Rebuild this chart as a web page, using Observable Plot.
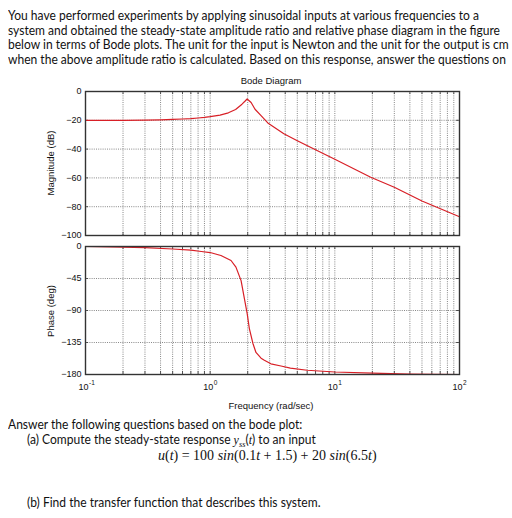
<!DOCTYPE html>
<html>
<head>
<meta charset="utf-8">
<script src="https://cdn.jsdelivr.net/npm/d3@7"></script>
<script src="https://cdn.jsdelivr.net/npm/@observablehq/plot@0.6"></script>
<style>
  html, body { margin: 0; padding: 0; background: #fff; width: 512px; height: 518px; overflow: hidden; }
  #page { position: relative; width: 512px; height: 518px; }
  .para { position: absolute; left: 8px; white-space: nowrap; font-family: Lato, "Open Sans", sans-serif; color: #111; transform-origin: 0 50%; }
  .lab { position: absolute; font-family: "Liberation Sans", Arial, sans-serif; font-size: 9.5px; color: #111; white-space: nowrap; }
  .math { font-family: "Liberation Serif", "DejaVu Serif", serif; font-style: italic; }
  .sub { font-size: 9px; position: relative; top: 3px; line-height: 0; }
  .plotbox { position: absolute; left: 0; }
</style>
</head>
<body>
<div id="page"></div>
<script>
// ---------- data ----------
const introLines = [
  "You have performed experiments by applying sinusoidal inputs at various frequencies to a",
  "system and obtained the steady-state amplitude ratio and relative phase diagram in the figure",
  "below in terms of Bode plots. The unit for the input is Newton and the unit for the output is cm",
  "when the above amplitude ratio is calculated. Based on this response, answer the questions on"
];
const chartTitle = "Bode Diagram";
const magLabel = "Magnitude (dB)";
const phaseLabel = "Phase (deg)";
const freqLabel = "Frequency  (rad/sec)";

const freqDecades = [0.1, 1, 10, 100];
const decadeExponents = ["-1", "0", "1", "2"];
const magTicks = [0, -20, -40, -60, -80, -100];
const phaseTicks = [0, -45, -90, -135, -180];

// magnitude curve
const magFreq = [0.1, 0.2, 0.3, 0.4, 0.5, 0.6, 0.7, 0.8, 0.9, 1.0, 1.2, 1.4, 1.6, 1.8, 1.9, 1.98, 2.13, 2.29, 2.56, 2.9, 3.9, 5, 7, 10, 19.4, 30, 50, 100];
const magDb   = [-20, -20, -19.9, -19.7, -19.4, -19.1, -18.8, -18.4, -18.0, -17.5, -16.4, -14.8, -12.5, -8.8, -6.8, -5.2, -7.6, -12.3, -16.7, -21.8, -29.4, -34.2, -40.5, -47, -59.5, -66.5, -76, -87];

// phase curve
const phaseFreq = [0.1, 0.2, 0.3, 0.5, 0.7, 0.85, 1.0, 1.22, 1.47, 1.61, 1.77, 1.88, 1.98, 2.06, 2.2, 2.33, 2.56, 2.72, 3.07, 3.7, 4.4, 6, 10, 20, 40, 100];
const phaseDeg  = [0, -1, -1.5, -3.5, -5, -7, -8.5, -12.6, -19.7, -29, -48, -73, -94, -115, -136, -149, -157, -160, -165, -168, -171, -174, -176.5, -178, -179.5, -180];

// ---------- build ----------
const page = document.getElementById("page");
const magData = magFreq.map((w, i) => ({w, v: magDb[i]}));
const phaseData = phaseFreq.map((w, i) => ({w, v: phaseDeg[i]}));
const gridFreq = [];
for (let k = 0; k < 3; k++) for (let m = 1; m <= 9; m++) gridFreq.push(m * freqDecades[k]);
gridFreq.push(freqDecades[3]);
const innerFreq = gridFreq.filter(f => f > 0.1 && f < 100);

const FONT = "'Liberation Sans', Arial, sans-serif";
const RED = "#d81f26";
const GRID = "#6a6a6a";

function makePanel(data, yDomain, yTicks, opts) {
  const span = yDomain[1] - yDomain[0];
  const tickLenY = span * opts.tickPx / opts.plotH;
  const tickFx = Math.pow(10, 3 * opts.tickPx / 374);
  const marks = [
    Plot.ruleX(innerFreq, {stroke: GRID, strokeWidth: 0.8, strokeDasharray: "1,1.2"}),
    Plot.ruleY(yTicks.filter(t => t > yDomain[0] && t < yDomain[1]), {stroke: GRID, strokeWidth: 0.8, strokeDasharray: "1,1.2"}),
    // inward ticks on top / bottom edges
    Plot.ruleX(innerFreq, {y1: yDomain[1], y2: yDomain[1] - tickLenY, stroke: "#333", strokeWidth: 0.8}),
    Plot.ruleX(innerFreq, {y1: yDomain[0], y2: yDomain[0] + tickLenY, stroke: "#333", strokeWidth: 0.8}),
    // inward ticks on left / right edges
    Plot.ruleY(yTicks, {x1: 0.1, x2: 0.1 * tickFx, stroke: "#333", strokeWidth: 0.8}),
    Plot.ruleY(yTicks, {x1: 100, x2: 100 / tickFx, stroke: "#333", strokeWidth: 0.8}),
    Plot.line(data, {x: "w", y: "v", stroke: RED, strokeWidth: 1.2}),
    Plot.axisY(yTicks, {tickSize: 0, tickPadding: 4, fontSize: 9, label: null, fill: "#111"}),
    Plot.frame({stroke: "#333", strokeWidth: 1.4})
  ];
  if (opts.xLabels) {
    marks.push(Plot.text(freqDecades, {x: d => d, frameAnchor: "bottom", dy: 15, dx: 3, text: () => "10", textAnchor: "end", fontSize: 9, fill: "#111"}));
    marks.push(Plot.text(freqDecades, {x: d => d, frameAnchor: "bottom", dy: 10, dx: 3.5, text: (d, i) => decadeExponents[i], textAnchor: "start", fontSize: 6.5, fill: "#111"}));
  }
  return Plot.plot({
    width: 512,
    height: opts.height,
    marginLeft: 85, marginRight: 53,
    marginTop: opts.mt, marginBottom: opts.mb,
    style: {fontFamily: FONT, background: "transparent", overflow: "visible"},
    x: {type: "log", domain: [0.1, 100], axis: null},
    y: {domain: yDomain, axis: null},
    marks
  });
}

const magPlot = makePanel(magData, [-100, 0], magTicks, {height: 157, mt: 11, mb: 2, plotH: 144, tickPx: 3});
const phasePlot = makePanel(phaseData, [-180, 0], phaseTicks, {height: 177, mt: 9, mb: 40, plotH: 128, tickPx: 3, xLabels: true});

const magBox = document.createElement("div");
magBox.className = "plotbox"; magBox.style.top = "80px";
magBox.appendChild(magPlot);
page.appendChild(magBox);
const phBox = document.createElement("div");
phBox.className = "plotbox"; phBox.style.top = "237px";
phBox.appendChild(phasePlot);
page.appendChild(phBox);

function addLabel(text, x, y) {
  const d = document.createElement("div");
  d.className = "lab";
  d.textContent = text;
  d.style.left = x + "px"; d.style.top = y + "px";
  d.style.transform = "translate(-50%, -50%)";
  page.appendChild(d);
  return d;
}
addLabel(chartTitle, 271, 80);
addLabel(freqLabel, 271, 405);
const ml = addLabel(magLabel, 50, 163);
ml.style.transform = "translate(-50%, -50%) rotate(-90deg)";
const pl = addLabel(phaseLabel, 50, 311);
pl.style.transform = "translate(-50%, -50%) rotate(-90deg)";

// intro paragraph
const lineCenters = [15, 29.5, 44, 58.5];
const paraSize = 13;
introLines.forEach((t, i) => {
  const d = document.createElement("div");
  d.className = "para";
  d.textContent = t;
  d.style.fontSize = paraSize + "px";
  d.style.top = (lineCenters[i] - 9) + "px";
  d.style.lineHeight = "18px";
  page.appendChild(d);
});
// fit the Calibri-like width of the reference
const first = page.querySelector(".para");
const sc = 471 / first.getBoundingClientRect().width;
page.querySelectorAll(".para").forEach(d => d.style.transform = `scaleX(${sc})`);

// questions below the chart
function addPara(html, x, yc) {
  const d = document.createElement("div");
  d.className = "para q";
  d.innerHTML = html;
  d.style.left = x + "px";
  d.style.fontSize = paraSize + "px";
  d.style.top = (yc - 9) + "px";
  d.style.lineHeight = "18px";
  d.style.transform = `scaleX(${sc})`;
  page.appendChild(d);
  return d;
}
addPara("Answer the following questions based on the bode plot:", 8, 424);
addPara('(a) Compute the steady-state response <span class="math">y</span><span class="math sub">ss</span>(<span class="math">t</span>) to an input', 27, 439);
const mathLine = addPara('<span class="math">u</span>(<span class="math">t</span>) = 100 <span class="math">sin</span>(0.1<span class="math">t</span> + 1.5) + 20 <span class="math">sin</span>(6.5<span class="math">t</span>)', 158, 456);
mathLine.style.fontFamily = "'Liberation Serif', 'DejaVu Serif', serif";
mathLine.style.fontSize = "14px";
mathLine.style.transform = "none";
addPara("(b) Find the transfer function that describes this system.", 27, 502);
</script>
</body>
</html>
